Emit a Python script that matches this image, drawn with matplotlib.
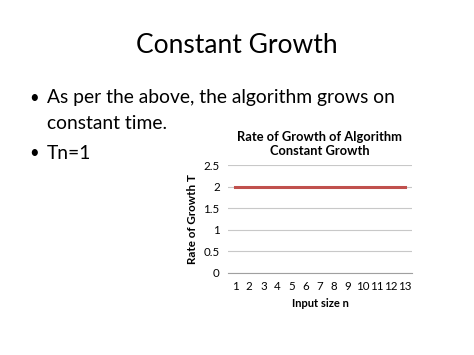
import matplotlib.pyplot as plt

# chart data
sizes = list(range(1, 14))
rate = [2] * 13
y_ticks = [0, 0.5, 1, 1.5, 2, 2.5]

plt.rcParams['font.family'] = ['Lato', 'DejaVu Sans']

fig = plt.figure(figsize=(4.74, 3.55), dpi=100)
fig.patch.set_facecolor('white')

# slide text
fig.text(0.5, 0.872, 'Constant Growth', ha='center', va='center', fontsize=19)
fig.text(0.062, 0.724, '•', ha='left', va='center', fontsize=12)
fig.text(0.099, 0.724, 'As per the above, the algorithm grows on',
         ha='left', va='center', fontsize=13.9)
fig.text(0.099, 0.651, 'constant time.', ha='left', va='center', fontsize=13.9)
fig.text(0.062, 0.568, '•', ha='left', va='center', fontsize=12)
fig.text(0.099, 0.568, 'Tn=1', ha='left', va='center', fontsize=13.9)

# chart
ax = fig.add_axes([0.481, 0.231, 0.388, 0.304])
ax.plot(sizes, rate, color='#C0504D', linewidth=2.2)
ax.set_xlim(0.5, 13.5)
ax.set_ylim(0, 2.5)
ax.set_yticks(y_ticks)
ax.set_yticklabels(['0', '0.5', '1', '1.5', '2', '2.5'])
ax.set_xticks(sizes)
ax.grid(axis='y', color='#C8C8C8', linewidth=0.8)
ax.set_axisbelow(True)
for s in ['top', 'right', 'left']:
    ax.spines[s].set_visible(False)
ax.spines['bottom'].set_color('#A0A0A0')
ax.tick_params(axis='both', length=0, labelsize=8.3, pad=6)
ax.set_xlabel('Input size n', fontsize=8, fontweight='bold', labelpad=4)
ax.set_ylabel('Rate of Growth T', fontsize=8.4, fontweight='bold', labelpad=4)
ax.set_title('Rate of Growth of Algorithm\nConstant Growth', fontsize=9.3,
             fontweight='bold', pad=7, linespacing=1.25)

fig.savefig('out.png', dpi=100)
